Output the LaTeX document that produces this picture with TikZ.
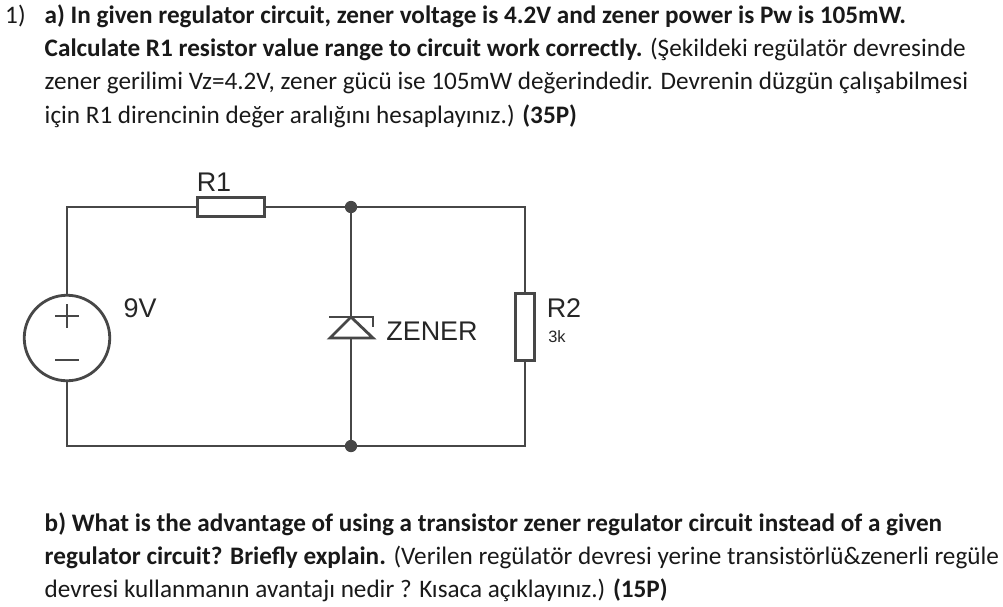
\documentclass[tikz,border=0pt]{standalone}
\usepackage{fontspec}
\setmainfont{Carlito}
\newfontfamily\labelfont{Liberation Sans}
\usetikzlibrary{positioning,calc}
\tikzset{
  wire/.style={draw=black!72, line width=2.4pt},
  part/.style={draw=black!72, line width=2.4pt, fill=white, inner sep=0pt},
  dot/.style={circle, fill=black!72, minimum size=10.5pt, inner sep=0pt},
  line/.style={anchor=base west, inner sep=0pt, text=black!90, font=\fontsize{21.5}{23}\selectfont},
  lab/.style={inner sep=0pt, text=black!85, font=\labelfont\fontsize{23}{25}\selectfont},
}

\begin{document}
\begin{tikzpicture}[x=0.03cm,y=-0.03cm]
  \useasboundingbox (0,0) rectangle (1003,606);
  % question a
  \node[line] (num) at (5,23) {1)};
  \node[line] (a1) at (44.5,23) {\textbf{a) In given regulator circuit, zener voltage is 4.2V and zener power is Pw is 105mW.}};
  \node[line] (a2) at (44.5,56) {\textbf{Calculate R1 resistor value range to circuit work correctly.} (Şekildeki regülatör devresinde};
  \node[line] (a3) at (44.5,89) {zener gerilimi Vz=4.2V, zener gücü ise 105mW değerindedir. Devrenin düzgün çalışabilmesi};
  \node[line] (a4) at (44.5,123) {için R1 direncinin değer aralığını hesaplayınız.) \textbf{(35P)}};
  % circuit corners
  \coordinate (tl) at (67,207);
  \coordinate (bl) at (67,446);
  \coordinate (tr) at (525,207);
  \coordinate (br) at (525,446);
  \node[part, circle, minimum size=73pt] (src) at (67,338) {};
  \node[part, minimum width=57pt, minimum height=16pt] (rone) at (231,207) {};
  \node[part, minimum width=16pt, minimum height=57pt] (rtwo) at (525,327) {};
  \node[dot] (jt) at (351,207) {};
  \node[dot] (jb) at (351,446) {};
  \coordinate (zk) at (351,317);
  \coordinate (za) at (351,338);
  \draw[wire] (src.north) -- (tl) -- (rone.west);
  \draw[wire] (rone.east) -- (jt) -- (tr) -- (rtwo.north);
  \draw[wire] (rtwo.south) -- (br) -- (jb) -- (bl) -- (src.south);
  \draw[wire] (jt) -- (zk);
  \draw[wire] (za) -- (jb);
  % zener
  \draw[wire] (329,317) -- (zk) -- (373,317) -- (373,327);
  \draw[wire] (zk) -- (330,338) -- (373,338) -- cycle;
  % plus and minus
  \draw[wire, line width=2pt] (55,316) -- (79,316) (67,304) -- (67,328);
  \draw[wire, line width=2pt] (55,360) -- (79,360);
  % labels
  \node[lab] (lrone) at (214,182) {R1};
  \node[lab] (lsrc) at (140,308) {9V};
  \node[lab] (lzen) at (432,331) {ZENER};
  \node[lab] (lrtwo) at (564,308) {R2};
  \node[lab, font=\labelfont\fontsize{14}{16}\selectfont] (lval) at (557,337) {3k};
  % question b
  \node[line] (b1) at (44.5,531) {\textbf{b) What is the advantage of using a transistor zener regulator circuit instead of a given}};
  \node[line] (b2) at (44.5,564) {\textbf{regulator circuit? Briefly explain.} (Verilen regülatör devresi yerine transistörlü\&zenerli regüle};
  \node[line] (b3) at (44.5,597) {devresi kullanmanın avantajı nedir ? Kısaca açıklayınız.) \textbf{(15P)}};
\end{tikzpicture}
\end{document}
